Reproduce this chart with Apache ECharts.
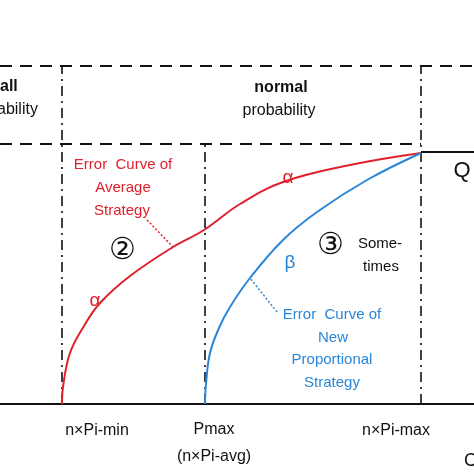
<!DOCTYPE html>
<html>
<head>
<meta charset="utf-8">
<script src="https://cdn.jsdelivr.net/npm/echarts@6/dist/echarts.min.js"></script>
<style>html,body{margin:0;padding:0;background:#fff}#c{width:474px;height:474px}</style>
</head>
<body>
<div id="c"></div>
<script>
// x in arbitrary units, y = height above the baseline
const avgCurve = [[62, 0], [63, 17], [70, 51], [84, 78], [100, 101], [130, 128], [173, 157], [204, 174], [240, 200], [283, 222], [350, 239], [421, 251]];
const newCurve = [[205, 0], [206, 20], [210, 51], [219, 76], [230, 97], [250, 126], [283, 164], [317, 192], [367, 224], [421, 251]];
const qLine = [[421, 252], [474, 252]];
const topDash = [[0, 338], [474, 338]];
const midDash = [[0, 260], [421, 260]];
const vMin = [[62, 0], [62, 338]];
const vAvg = [[205, 0], [205, 260]];
const vMax = [[421, 0], [421, 338]];
const baseLine = [[0, 0], [474, 0]];
const redLead = [[147, 184], [173, 157]];
const blueLead = [[277, 92], [250, 126]];

const chart = echarts.init(document.getElementById('c'));
const ln = (data, color, type, width) => ({
  type: 'line', data, symbol: 'none', smooth: false, silent: true,
  lineStyle: { color, type, width }
});
const font = 'Arial, "Liberation Sans", sans-serif';
const txt = (x, y, text, opts) => ({
  type: 'text', x, y,
  style: Object.assign({ text, font: '15px ' + font, fill: '#111', align: 'center', verticalAlign: 'middle' }, opts || {})
});
chart.setOption({
  animation: false,
  grid: { left: 0, right: 0, top: 0, bottom: 0 },
  xAxis: { type: 'value', min: 0, max: 474, show: false },
  yAxis: { type: 'value', min: -70, max: 404, show: false },
  series: [
    ln(topDash, '#111', [12, 8], 2),
    ln(midDash, '#111', [12, 8], 2),
    ln(vMin, '#111', [10, 5, 2, 5], 1.6),
    ln(vAvg, '#111', [10, 5, 2, 5], 1.6),
    ln(vMax, '#111', [10, 5, 2, 5], 1.6),
    ln(baseLine, '#111', 'solid', 2),
    ln(qLine, '#111', 'solid', 2),
    Object.assign(ln(avgCurve, '#e0202a', 'solid', 2), { smooth: 0.4 }),
    Object.assign(ln(newCurve, '#2a86d8', 'solid', 2), { smooth: 0.4 }),
    ln(redLead, '#e0202a', [2, 2], 1.5),
    ln(blueLead, '#2a86d8', [2, 2], 1.5)
  ],
  graphic: [
    txt(0, 87, 'all', { font: 'bold 16px ' + font, align: 'left' }),
    txt(-3, 110, 'ability', { font: '16px ' + font, align: 'left' }),
    txt(281, 88, 'normal', { font: 'bold 16px ' + font }),
    txt(279, 111, 'probability', { font: '16px ' + font }),
    txt(123, 165, 'Error  Curve of', { fill: '#e0202a', font: '15px ' + font }),
    txt(123, 188, 'Average', { fill: '#e0202a', font: '15px ' + font }),
    txt(122, 211, 'Strategy', { fill: '#e0202a', font: '15px ' + font }),
    txt(288, 178, 'α', { fill: '#e0202a', font: '19px ' + font }),
    txt(95, 301, 'α', { fill: '#e0202a', font: '19px ' + font }),
    txt(122, 251, '②', { font: '30px ' + font }),
    txt(330, 246, '③', { font: '30px ' + font }),
    txt(380, 244, 'Some-', { font: '15px ' + font }),
    txt(381, 267, 'times', { font: '15px ' + font }),
    txt(290, 263, 'β', { fill: '#2a86d8', font: '19px ' + font }),
    txt(332, 315, 'Error  Curve of', { fill: '#2a86d8', font: '15px ' + font }),
    txt(333, 338, 'New', { fill: '#2a86d8', font: '15px ' + font }),
    txt(332, 360, 'Proportional', { fill: '#2a86d8', font: '15px ' + font }),
    txt(332, 383, 'Strategy', { fill: '#2a86d8', font: '15px ' + font }),
    txt(462, 171, 'Q', { font: '22px ' + font }),
    txt(97, 431, 'n×Pi-min', { font: '16px ' + font }),
    txt(214, 430, 'Pmax', { font: '16px ' + font }),
    txt(214, 457, '(n×Pi-avg)', { font: '16px ' + font }),
    txt(396, 431, 'n×Pi-max', { font: '16px ' + font }),
    txt(464, 461, 'C', { font: '18px ' + font, align: 'left' })
  ]
});
</script>
</body>
</html>
